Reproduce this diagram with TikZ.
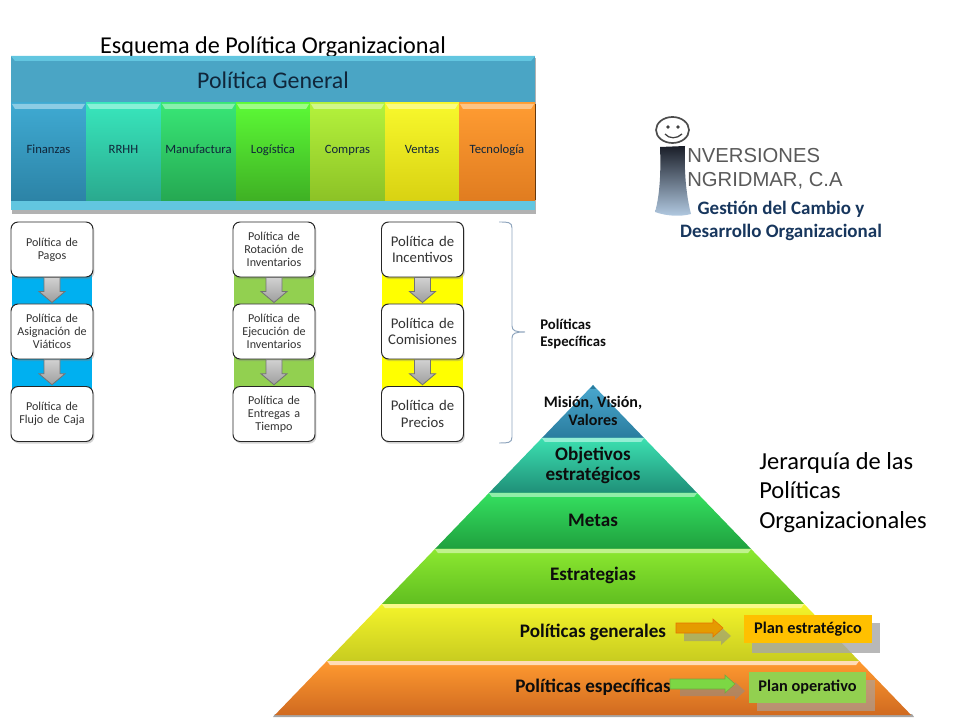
\documentclass[tikz,border=0pt]{standalone}
\usepackage{fontspec}
\setmainfont{Carlito}
\newfontfamily\logofont{Liberation Sans}
\usetikzlibrary{shadows}
\usetikzlibrary{calc}

\definecolor{inktext}{HTML}{10263A}
\definecolor{navytext}{HTML}{17365D}
\definecolor{bracecol}{HTML}{8FA5BD}
\definecolor{headcol}{HTML}{4AA5C5}
\definecolor{bandcol}{HTML}{62C6E0}
\definecolor{bluestrip}{HTML}{00B0F0}
\definecolor{greenstrip}{HTML}{92D050}
\definecolor{yellowstrip}{HTML}{FFFF00}
\definecolor{planorange}{HTML}{FFC000}
\definecolor{logotop}{HTML}{1A1E28}
\definecolor{logomid}{HTML}{2F5F96}
\definecolor{logobot}{HTML}{B4CCE4}
\definecolor{col1top}{HTML}{3FAAD2}
\definecolor{col1bot}{HTML}{2C83A6}
\definecolor{col2top}{HTML}{38E6BC}
\definecolor{col2bot}{HTML}{2AA98E}
\definecolor{col3top}{HTML}{38E676}
\definecolor{col3bot}{HTML}{25A852}
\definecolor{col4top}{HTML}{5CFA36}
\definecolor{col4bot}{HTML}{3FB024}
\definecolor{col5top}{HTML}{B4F23C}
\definecolor{col5bot}{HTML}{8CC226}
\definecolor{col6top}{HTML}{F8F82C}
\definecolor{col6bot}{HTML}{D8D212}
\definecolor{col7top}{HTML}{FF9C32}
\definecolor{col7bot}{HTML}{E07C20}
\definecolor{lay1top}{HTML}{4AA8CF}
\definecolor{lay1bot}{HTML}{2A7C9E}
\definecolor{lay2top}{HTML}{3CE0B0}
\definecolor{lay2bot}{HTML}{1F8F78}
\definecolor{lay3top}{HTML}{35E060}
\definecolor{lay3bot}{HTML}{1FA03E}
\definecolor{lay4top}{HTML}{8CE830}
\definecolor{lay4bot}{HTML}{60BE20}
\definecolor{lay5top}{HTML}{F4F42A}
\definecolor{lay5bot}{HTML}{C8CC20}
\definecolor{lay6top}{HTML}{FF9A30}
\definecolor{lay6bot}{HTML}{D06A20}

\newcommand{\px}{0.025cm}
\newcommand{\fsize}[1]{\fontsize{#1}{#1}\selectfont}

\tikzset{
	policybox/.style={draw=black!85, line width=0.7pt, fill=white, rounded corners=5pt,
		minimum width=82*\px, minimum height=55*\px, text width=80*\px, align=center,
		inner sep=0pt, text=black!80, font=\fontsize{8.6}{9.3}\selectfont, drop shadow={shadow xshift=1pt, shadow yshift=-1.5pt, opacity=0.35}},
	bigbox/.style={policybox, font=\fontsize{10.5}{11.7}\selectfont},
	stepdown/.style={draw=black!55, line width=0.6pt, top color=black!18, bottom color=black!38},
	arrowshadow/.style={draw=none, fill=black!45, opacity=0.55},
	layertext/.style={font=\bfseries\fsize{13.6}, text=black!95, align=center, inner sep=0pt},
	plantext/.style={font=\bfseries\fsize{11.6}, text=black!95, inner sep=0pt}
}

% x1, x2, top colour, bottom colour, light colour, label
\newcommand{\drawcolumn}[7]{
	\shade[top color=#3, bottom color=#4] (#1, 103) rectangle (#2, 201);
	\fill[#5] (#1 + 1, 104) -- (#2 - 1, 104) -- (#2 - 4, 109) -- (#1 + 4, 109) -- cycle;
	\draw[black!55!#4, line width=0.5pt] (#2, 104) -- (#2, 200);
	\node[font=\fsize{9}, text=inktext, inner sep=0pt, anchor=base] (#7) at ({(#1 + #2)/2}, 154) {#6};
}

% y top, y bottom, top colour, bottom colour, light colour
\newcommand{\drawlayer}[5]{
	\pgfmathsetmacro{\halftop}{0.964*(#1 - 385)}
	\pgfmathsetmacro{\halfbot}{0.964*(#2 - 385)}
	\shade[top color=#3, bottom color=#4] (593 - \halftop, #1) -- (593 + \halftop, #1) -- (593 + \halfbot, #2) -- (593 - \halfbot, #2) -- cycle;
	\fill[#5] (593 - \halftop, #1) -- (593 + \halftop, #1) -- (593 + \halftop - 3, #1 + 4) -- (593 - \halftop + 3, #1 + 4) -- cycle;
}

% upper node, lower node
\newcommand{\drawstepdown}[2]{
	\coordinate (mid) at ($(#1)!0.5!(#2)$);
	\draw[stepdown] (mid) +(-8, -13) -- +(8, -13) -- +(8, 1) -- +(13, 1) -- +(0, 12) -- +(-13, 1) -- +(-8, 1) -- cycle;
}

% from, to, half body, style
\newcommand{\drawplanarrow}[4]{
	\draw[#4] ($(#1) + (0, -#3)$) -- ($(#2) + (-10, -#3)$) -- ($(#2) + (-10, -9)$) -- (#2) -- ($(#2) + (-10, 9)$) -- ($(#2) + (-10, #3)$) -- ($(#1) + (0, #3)$) -- cycle;
}

\begin{document}
\begin{tikzpicture}[x=\px, y=-\px]

\useasboundingbox (0, 0) rectangle (960, 720);

\node[font=\fsize{17.2}, text=black, inner sep=0pt] (title) at (273, 47) {Esquema de Política Organizacional};

% general block
\fill[black!30] (12, 58) rectangle (536, 214);
\fill[headcol] (11, 56) rectangle (535, 103);
\fill[bandcol] (11, 56) -- (535, 56) -- (531, 61) -- (15, 61) -- cycle;
\fill[bandcol] (11, 200) rectangle (535, 210);
\node[font=\fsize{17}, text=inktext, inner sep=0pt] (general) at (273, 80) {Política General};

\drawcolumn{11}{86}{col1top}{col1bot}{col1top!60!white}{Finanzas}{finanzas}
\drawcolumn{86}{161}{col2top}{col2bot}{col2top!60!white}{RRHH}{rrhh}
\drawcolumn{161}{236}{col3top}{col3bot}{col3top!60!white}{Manufactura}{manufactura}
\drawcolumn{236}{310}{col4top}{col4bot}{col4top!60!white}{Logística}{logistica}
\drawcolumn{310}{385}{col5top}{col5bot}{col5top!60!white}{Compras}{compras}
\drawcolumn{385}{459}{col6top}{col6bot}{col6top!60!white}{Ventas}{ventas}
\drawcolumn{459}{535}{col7top}{col7bot}{col7top!60!white}{Tecnología}{tecnologia}

% strips behind the policy boxes
\fill[bluestrip] (12, 270) rectangle (92, 392);
\fill[greenstrip] (234, 270) rectangle (314, 392);
\fill[yellowstrip] (382, 270) rectangle (463, 392);

\node[policybox] (pagos) at (52, 249.5) {Política de\\Pagos};
\node[policybox] (viaticos) at (52, 331.5) {Política de\\Asignación de\\Viáticos};
\node[policybox] (caja) at (52, 414) {Política de\\Flujo de Caja};

\node[policybox] (rotacion) at (274, 249.5) {Política de\\Rotación de\\Inventarios};
\node[policybox] (ejecucion) at (274, 331.5) {Política de\\Ejecución de\\Inventarios};
\node[policybox] (entregas) at (274, 414) {Política de\\Entregas a\\Tiempo};

\node[bigbox] (incentivos) at (422.5, 249.5) {Política de\\Incentivos};
\node[bigbox] (comisiones) at (422.5, 331.5) {Política de\\Comisiones};
\node[bigbox] (precios) at (422.5, 414) {Política de\\Precios};

\drawstepdown{pagos}{viaticos}
\drawstepdown{viaticos}{caja}
\drawstepdown{rotacion}{ejecucion}
\drawstepdown{ejecucion}{entregas}
\drawstepdown{incentivos}{comisiones}
\drawstepdown{comisiones}{precios}

% brace
\draw[bracecol, line width=0.7pt] (499, 222) .. controls (508, 222) and (512, 222) .. (512, 228) -- (512, 326)
	.. controls (512, 331) and (516, 332) .. (525, 332) .. controls (516, 332) and (512, 333) .. (512, 338)
	-- (512, 437) .. controls (512, 443) and (508, 443) .. (499, 443);
\node[font=\bfseries\fsize{10.5}, text=black!95, align=left, anchor=west, inner sep=0pt] (especificas) at (540, 334) {Políticas\\[1.5pt]Específicas};

% logo
\draw[black!70, line width=1.2pt] (672.5, 130) ellipse[x radius=16.5, y radius=13];
\fill[black!75] (668, 127) circle[radius=1.8];
\fill[black!75] (678, 127) circle[radius=1.8];
\draw[black!75, line width=0.9pt] (665, 134) .. controls (669, 139) and (677, 139) .. (682, 134);
\shade[top color=logotop, middle color=logomid, bottom color=logobot] (660, 147) -- (685, 146) .. controls (684, 170) and (686, 195) .. (691, 214) .. controls (680, 217) and (666, 216) .. (655, 212) .. controls (660, 195) and (661, 170) .. (660, 147) -- cycle;
\node[font=\logofont\fsize{14.4}, text=black!65, anchor=west, inner sep=0pt] (logoa) at (687, 156) {NVERSIONES};
\node[font=\logofont\fsize{14.4}, text=black!65, anchor=west, inner sep=0pt] (logob) at (687, 181) {NGRIDMAR, C.A};
\node[font=\bfseries\fsize{13.5}, text=navytext, align=center, inner sep=0pt] (gestion) at (781, 220.5) {Gestión del Cambio y\\[2.8pt]Desarrollo Organizacional};

% pyramid
\fill[black!35] (273, 717) -- (914, 717) -- (912, 714) -- (275, 714) -- cycle;
\drawlayer{385}{438}{lay1top}{lay1bot}{lay1bot}
\drawlayer{438}{493}{lay2top}{lay2bot}{lay2top!55!white}
\drawlayer{493}{549}{lay3top}{lay3bot}{lay3top!55!white}
\drawlayer{549}{604}{lay4top}{lay4bot}{lay4top!55!white}
\drawlayer{604}{661}{lay5top}{lay5bot}{lay5top!55!white}
\drawlayer{661}{715}{lay6top}{lay6bot}{lay6top!35!white}

\node[layertext, font=\bfseries\fsize{11.4}] (mision) at (593, 411) {Misión, Visión,\\[2pt]Valores};
\node[layertext] (objetivos) at (593, 465.5) {Objetivos\\[0.5pt]estratégicos};
\node[layertext] (metas) at (593, 520.5) {Metas};
\node[layertext] (estrategias) at (593, 575.5) {Estrategias};
\node[layertext] (generales) at (593, 632) {Políticas generales};
\node[layertext] (especificaslay) at (593, 687) {Políticas específicas};

% plans
\fill[black!35, opacity=0.8] (752, 623) rectangle (880, 653);
\node[plantext, fill=planorange, minimum width=128*\px, minimum height=28*\px] (estrategico) at (808, 629) {Plan estratégico};
\fill[black!35, opacity=0.6] (757, 680) rectangle (875, 711);
\node[plantext, fill=greenstrip, minimum width=117*\px, minimum height=31*\px] (operativo) at (807.5, 687.5) {Plan operativo};

\coordinate (gstart) at (676, 628);
\coordinate (gend) at (723, 628);
\coordinate (gshadowa) at (684, 636);
\coordinate (gshadowb) at (731, 636);
\coordinate (ostart) at (670, 684);
\coordinate (oend) at (735, 684);
\coordinate (oshadowa) at (680, 691);
\coordinate (oshadowb) at (745, 691);
\drawplanarrow{gshadowa}{gshadowb}{5}{arrowshadow}
\drawplanarrow{gstart}{gend}{5}{draw=orange!90!black, line width=0.4pt, fill=planorange!70!orange!90!black}
\drawplanarrow{oshadowa}{oshadowb}{5}{arrowshadow}
\drawplanarrow{ostart}{oend}{5}{draw=greenstrip!80!black, line width=0.4pt, fill=greenstrip!85!green}

\node[font=\fsize{17.4}, text=black, align=left, anchor=west, inner sep=0pt] (jerarquia) at (759, 492.5) {Jerarquía de las\\[3.5pt]Políticas\\[3.5pt]Organizacionales};

\end{tikzpicture}
\end{document}
